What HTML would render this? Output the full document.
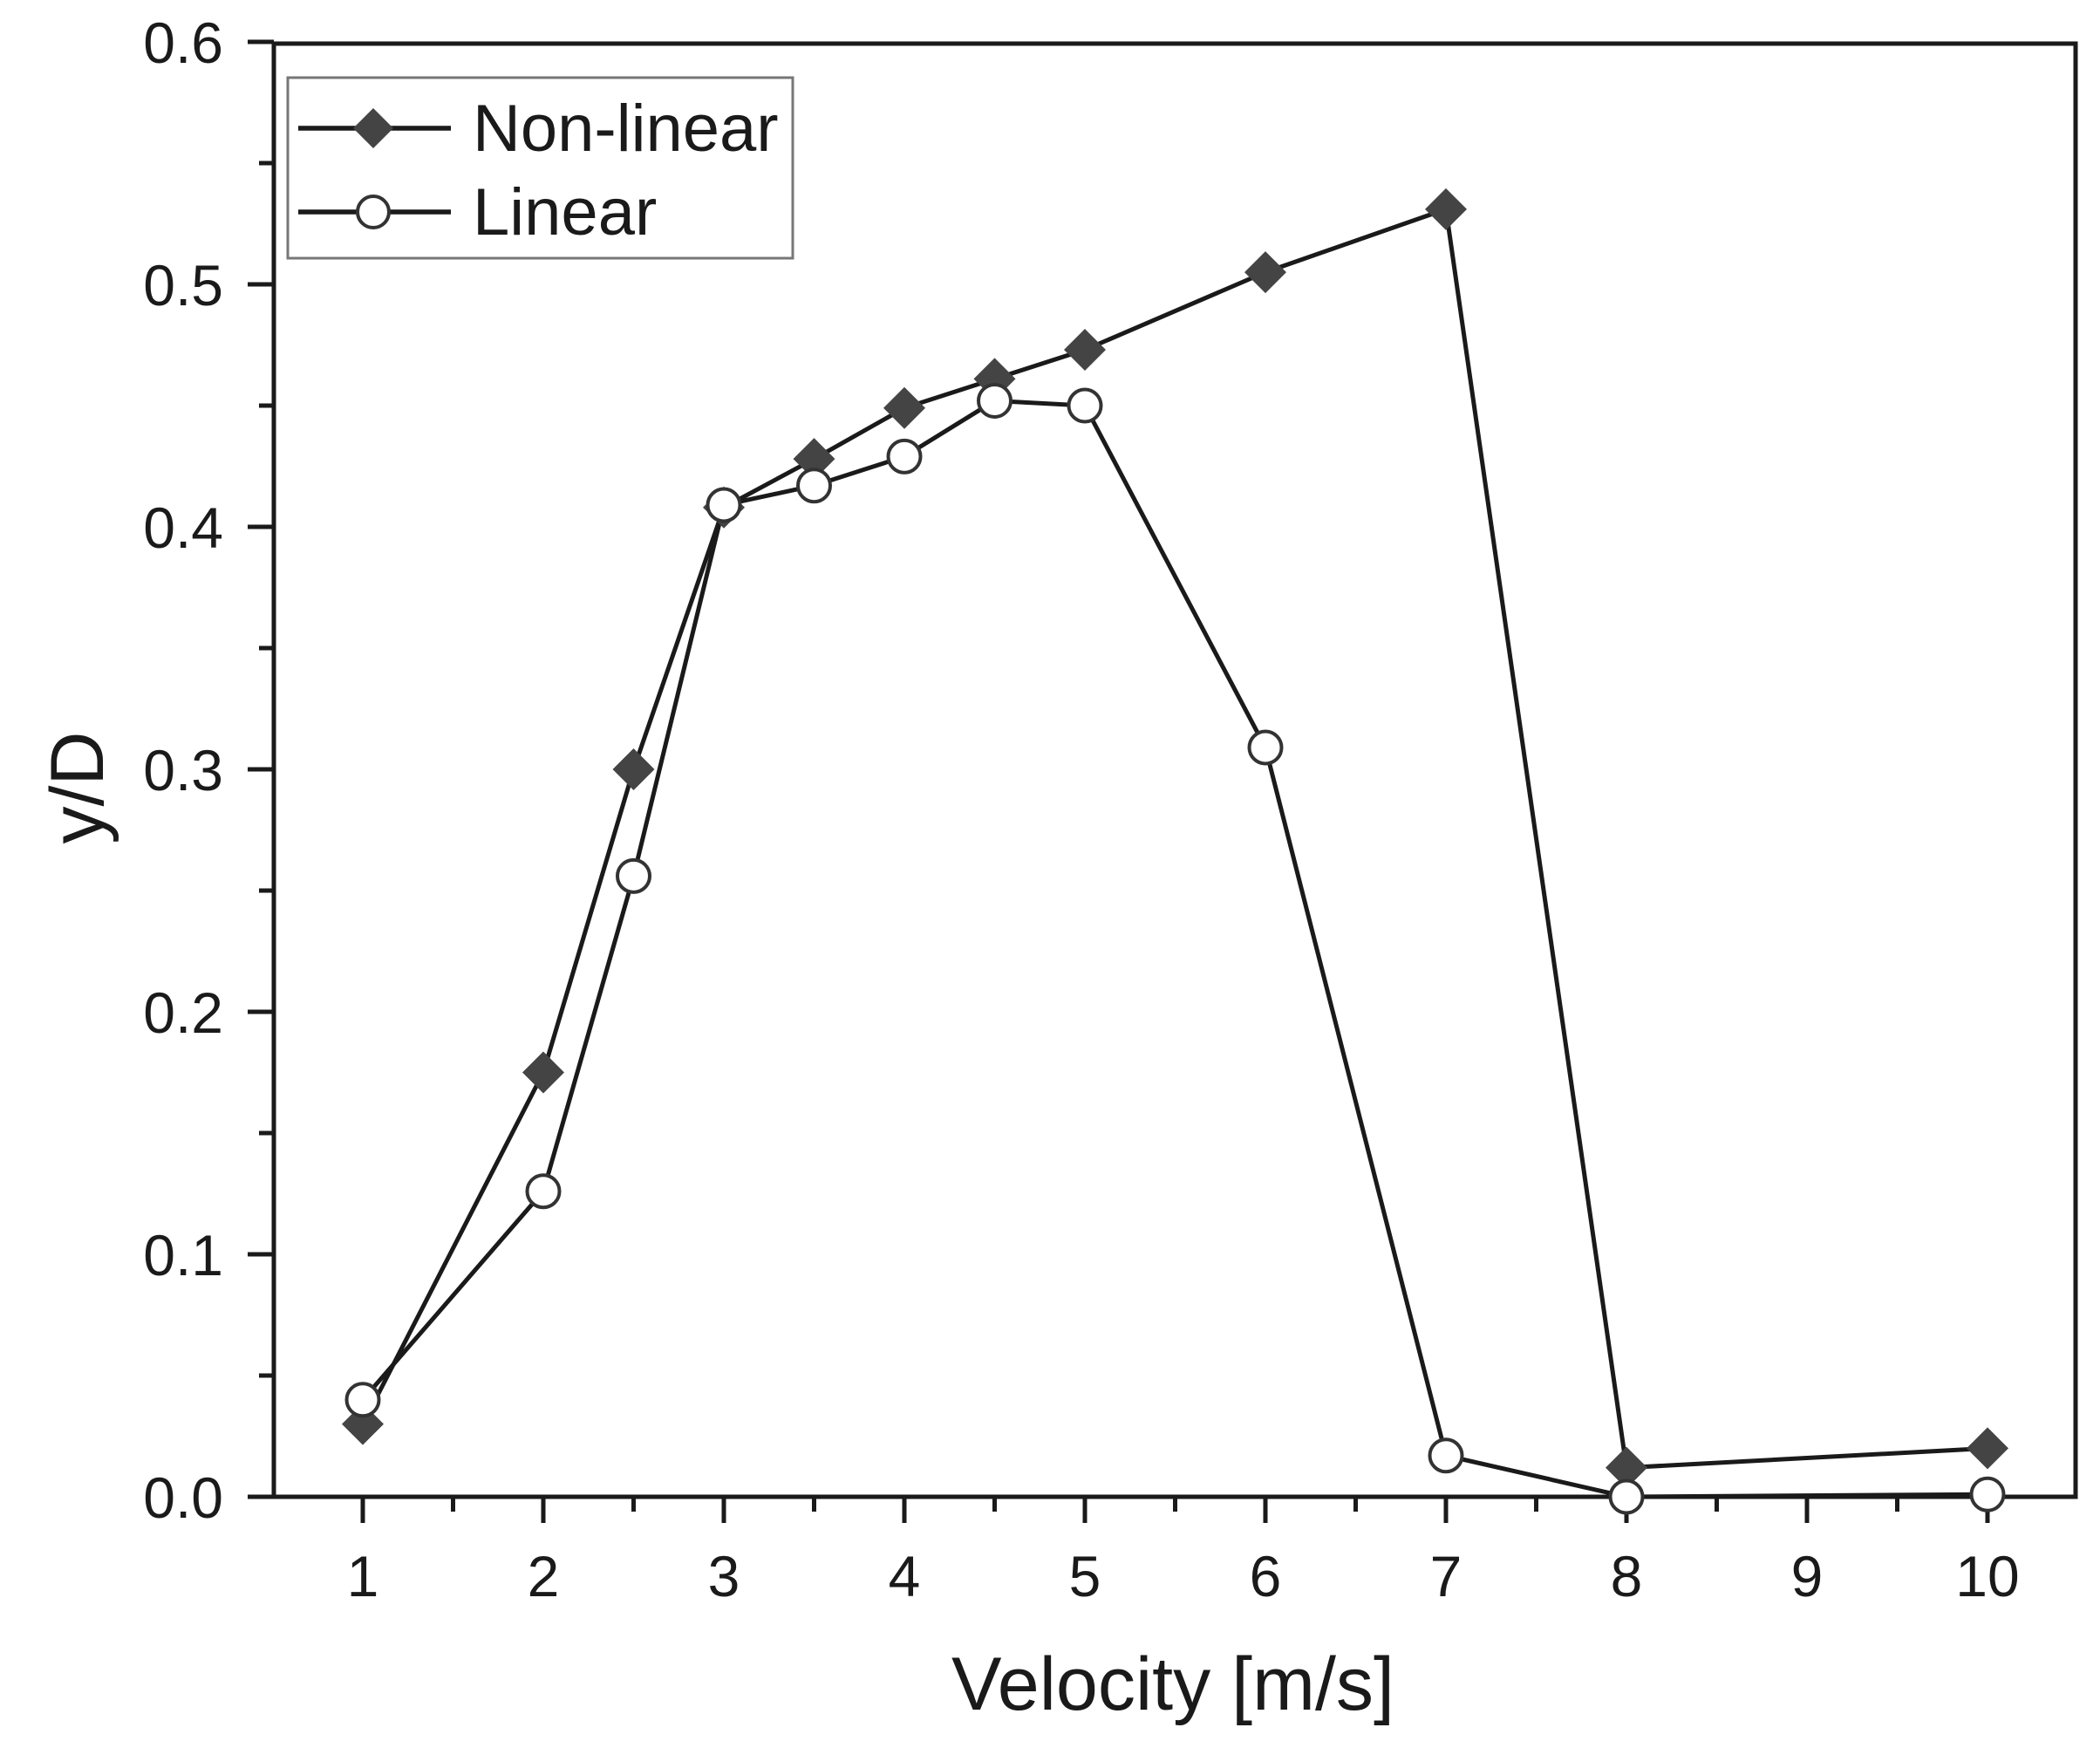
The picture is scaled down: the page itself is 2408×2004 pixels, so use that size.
<!DOCTYPE html>
<html><head><meta charset="utf-8"><style>html,body{margin:0;padding:0;background:#fff}svg{display:block}</style></head>
<body>
<svg width="2408" height="2004" viewBox="0 0 2408 2004" xmlns="http://www.w3.org/2000/svg" font-family="Liberation Sans, Arial, sans-serif">
<g stroke="#1a1a1a" stroke-width="5" fill="none">
<rect x="314" y="50" width="2066" height="1666"/>
</g>
<g stroke="#1a1a1a" stroke-width="5" id="ticks"></g>
<g font-size="66" fill="#1a1a1a" id="labels"></g>
<text x="1345" y="1960" font-size="86" text-anchor="middle" fill="#1a1a1a" textLength="508" lengthAdjust="spacingAndGlyphs">Velocity [m/s]</text>
<text transform="translate(118,903) rotate(-90)" font-size="86" text-anchor="middle" fill="#1a1a1a">y/D</text>
<g id="series"></g>
<rect x="330" y="89" width="579" height="207" fill="#fff" stroke="#777" stroke-width="3"/>
<line x1="342" y1="147" x2="517" y2="147" stroke="#1a1a1a" stroke-width="5.5"/>
<polygon points="428,124 451,147 428,170 405,147" fill="#444"/>
<line x1="342" y1="243" x2="517" y2="243" stroke="#1a1a1a" stroke-width="5.5"/>
<circle cx="428" cy="243" r="18" fill="#fff" stroke="#333" stroke-width="4"/>
<text x="542" y="173" font-size="76" fill="#1a1a1a">Non-linear</text>
<text x="542" y="269" font-size="76" fill="#1a1a1a">Linear</text>
<script>
var NS="http://www.w3.org/2000/svg";
function X(v){return 416+(v-1)*207;}
function Y(v){return 1716-v*2780;}
function el(t,a,p){var e=document.createElementNS(NS,t);for(var k in a)e.setAttribute(k,a[k]);p.appendChild(e);return e;}
var tk=document.getElementById('ticks'),lb=document.getElementById('labels');
for(var i=0;i<=12;i++){var v=i*0.05,y=Y(v),maj=i%2==0;
 el('line',{x1:314-(maj?30:17),y1:y,x2:314,y2:y},tk);
 if(maj){var t=el('text',{x:256,y:y+24,'text-anchor':'end'},lb);t.textContent=(v).toFixed(1);}}
for(var i=0;i<=20;i++){var v=0.5+i*0.5,x=X(v),maj=i%2==1;
 if(x<314||x>2380)continue;
 el('line',{x1:x,y1:1716,x2:x,y2:1716+(maj?30:17)},tk);
 if(maj){var t=el('text',{x:x,y:1830,'text-anchor':'middle'},lb);t.textContent=String(v);}}
var xs=[1,2,2.5,3,3.5,4,4.5,5,6,7,8,10];
var nl=[0.03,0.175,0.30,0.408,0.428,0.449,0.461,0.473,0.505,0.531,0.012,0.020];
var li=[0.04,0.126,0.256,0.409,0.417,0.429,0.452,0.450,0.309,0.017,0.0,0.001];
var s=document.getElementById('series');
function pts(d){return xs.map(function(x,i){return X(x)+','+Y(d[i]);}).join(' ');}
el('polyline',{points:pts(li),fill:'none',stroke:'#1a1a1a','stroke-width':5},s);
el('polyline',{points:pts(nl),fill:'none',stroke:'#1a1a1a','stroke-width':5},s);
xs.forEach(function(x,i){var cx=X(x),cy=Y(nl[i]);
 el('polygon',{points:cx+','+(cy-24)+' '+(cx+24)+','+cy+' '+cx+','+(cy+24)+' '+(cx-24)+','+cy,fill:'#444'},s);});
xs.forEach(function(x,i){el('circle',{cx:X(x),cy:Y(li[i]),r:18.5,fill:'#fff',stroke:'#333','stroke-width':4},s);});
</script>
</svg>
</body></html>
